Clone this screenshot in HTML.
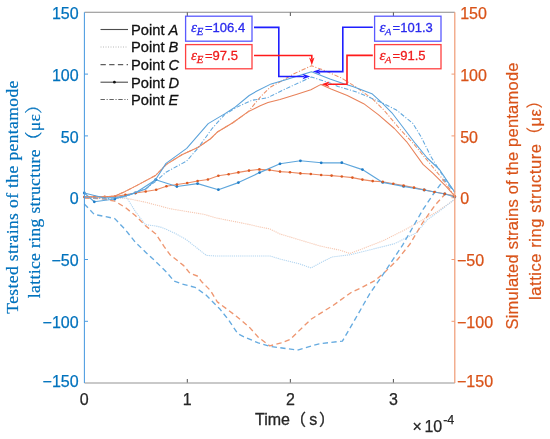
<!DOCTYPE html>
<html><head><meta charset="utf-8"><style>
html,body{margin:0;padding:0;background:#fff;}
body{width:550px;height:439px;overflow:hidden;position:relative;}
svg{position:absolute;left:0;top:0;}
.tl{font-family:"Liberation Sans",sans-serif;font-size:16px;stroke:currentColor;stroke-width:0.25px;}
.lg{font-family:"Liberation Sans",sans-serif;font-size:14.7px;fill:#111;stroke:#111;stroke-width:0.3px;}
.eps{font-family:"Liberation Serif",serif;font-style:italic;font-size:15px;}
.sub{font-family:"Liberation Serif",serif;font-style:italic;font-size:10.8px;}
.subs{font-family:"Liberation Sans",sans-serif;font-style:italic;font-size:9.6px;}
.num{font-family:"Liberation Sans",sans-serif;font-size:13px;}
.yl{font-family:"Liberation Serif","Noto Serif CJK SC",serif;font-size:17.5px;fill:#0072BD;stroke:#0072BD;stroke-width:0.2px;}
.yr{font-family:"Liberation Sans","Noto Sans CJK SC",sans-serif;font-size:16.5px;fill:#D95319;stroke:#D95319;stroke-width:0.2px;}
.xl{font-family:"Liberation Sans","Noto Sans CJK SC",sans-serif;font-size:16px;fill:#262626;stroke:#262626;stroke-width:0.3px;}
</style></head><body>
<svg width="550" height="439" viewBox="0 0 550 439">
<g>
<line x1="84.5" y1="12.3" x2="454.8" y2="12.3" stroke="#8a8a8a" stroke-width="1.1"/>
<line x1="84.5" y1="383" x2="454.8" y2="383" stroke="#939393" stroke-width="1.2"/>
<line x1="187.3" y1="382.5" x2="187.3" y2="379" stroke="#262626" stroke-width="0.8"/>
<line x1="187.3" y1="12.5" x2="187.3" y2="16" stroke="#262626" stroke-width="0.8"/>
<line x1="290.35" y1="382.5" x2="290.35" y2="379" stroke="#262626" stroke-width="0.8"/>
<line x1="290.35" y1="12.5" x2="290.35" y2="16" stroke="#262626" stroke-width="0.8"/>
<line x1="393.4" y1="382.5" x2="393.4" y2="379" stroke="#262626" stroke-width="0.8"/>
<line x1="393.4" y1="12.5" x2="393.4" y2="16" stroke="#262626" stroke-width="0.8"/>
<line x1="84.5" y1="74.1" x2="88" y2="74.1" stroke="#4a9be0" stroke-width="1"/>
<line x1="454.8" y1="74.1" x2="451.5" y2="74.1" stroke="#ef9a74" stroke-width="1"/>
<line x1="84.5" y1="135.9" x2="88" y2="135.9" stroke="#4a9be0" stroke-width="1"/>
<line x1="454.8" y1="135.9" x2="451.5" y2="135.9" stroke="#ef9a74" stroke-width="1"/>
<line x1="84.5" y1="197.7" x2="88" y2="197.7" stroke="#4a9be0" stroke-width="1"/>
<line x1="454.8" y1="197.7" x2="451.5" y2="197.7" stroke="#ef9a74" stroke-width="1"/>
<line x1="84.5" y1="259.5" x2="88" y2="259.5" stroke="#4a9be0" stroke-width="1"/>
<line x1="454.8" y1="259.5" x2="451.5" y2="259.5" stroke="#ef9a74" stroke-width="1"/>
<line x1="84.5" y1="321.3" x2="88" y2="321.3" stroke="#4a9be0" stroke-width="1"/>
<line x1="454.8" y1="321.3" x2="451.5" y2="321.3" stroke="#ef9a74" stroke-width="1"/>
</g>
<g>
<polyline points="84.3,197 125,198 145.5,202.2 170,208.7 204.2,214.4 215.6,217.8 249.7,224.6 260,227 270,229 280,234 300,240 320,246 340,250.2 349.8,253.5 361.8,249.1 383.7,240.4 405.5,229.5 423,219.7 438.3,210.9 454.8,199.5" fill="none" stroke="#f6c8b2" stroke-width="1.1" stroke-dasharray="1.2 0.9" stroke-linejoin="round" opacity="1"/>
<polyline points="84.3,197 104.9,197.5 127,198 135.3,211.4 145.5,224.7 155.8,226 162,227.5 174,232.8 186,239.4 206.4,255.4 215.6,256 270,256 280,259 300,264 311,268 320,263 332,257 350.9,254.6 372.8,249.1 394.6,243.7 407.7,237.1 416.4,232.8 427.3,219.7 438.3,212 454.8,199" fill="none" stroke="#b2d5f0" stroke-width="1.1" stroke-dasharray="1.2 0.9" stroke-linejoin="round" opacity="1"/>
<polyline points="84.3,198 104.5,199 114.8,201.2 125,207.3 135.3,215.5 145.5,225.7 155.8,234 164,246.3 170,254.7 183.7,265.6 190,273.4 197.3,276 201.4,281.4 210.5,290.5 217.3,301.9 235.6,315.6 249.2,327 258.3,337.2 269.7,345.9 281.1,342.9 290,339.5 311,319.2 332.8,305.6 352,291.9 360,288.5 375,280.5 385,272 397.6,259.5 410,244 422.7,222.6 435.2,205 445.2,194 454.8,196.3" fill="none" stroke="#ee9670" stroke-width="1.35" stroke-dasharray="5.3 3.4" stroke-linejoin="round" opacity="1"/>
<polyline points="84.3,204 94.3,214.5 104.9,216.5 114.8,218.6 125.5,229.9 135.3,242.2 145.9,252.4 155.8,261.6 166.4,272 174,281 181.4,283.8 195,287.3 206,295 219.6,308.7 228.7,320.1 237.8,333.8 244.7,337.2 258.3,342.9 269.7,346.3 297.3,350.1 319.2,343.8 342.4,341.1 352,324.7 362.9,305.6 370,293.3 380,279 390,264 402.6,245.1 412.6,227.6 422.7,210 432.7,195 444,179.5 454.8,192.3" fill="none" stroke="#66abe0" stroke-width="1.35" stroke-dasharray="5.3 3.4" stroke-linejoin="round" opacity="1"/>
<polyline points="84.3,197 94.5,196.8 104.7,196.8 114.9,196.5 125.4,194.9 135.5,193 145.7,191.5 156.2,189.7 166.4,186.3 176.9,184.5 187.2,183 197.6,181 207.9,179.5 218.4,175.8 228.6,174.3 238.4,172.4 249,170.6 259.4,169.4 269.6,170 280,171.6 290,172.2 300.4,173.4 310.8,174 321.2,175 331.6,175.6 341.8,176.5 352.4,177.6 362.4,179.6 372.7,181.1 382.7,181.8 393.3,183.8 403.6,185.6 414,187.6 424.2,189.9 434.4,192 444.7,193.7 454.8,196.2" fill="none" stroke="#ec8a62" stroke-width="1.15" stroke-linejoin="round" opacity="1"/>
<polyline points="84.3,193 94.3,201.8 114.8,199 135.3,193 155.7,179.7 176.9,186.5 197.6,183.6 218.4,189.7 238.4,182.6 259.6,172.6 280,163.8 300.4,160.8 321.2,162.8 341.8,162.7 362.4,169.6 382.7,182.4 403.6,186.4 424.2,190 444.8,194 454.8,197" fill="none" stroke="#5ea6dc" stroke-width="1.15" stroke-linejoin="round" opacity="1"/>
<circle cx="84.3" cy="193.0" r="1.4" fill="#1f7cc6"/><circle cx="94.3" cy="201.8" r="1.4" fill="#1f7cc6"/><circle cx="114.8" cy="199.0" r="1.4" fill="#1f7cc6"/><circle cx="135.3" cy="193.0" r="1.4" fill="#1f7cc6"/><circle cx="155.7" cy="179.7" r="1.4" fill="#1f7cc6"/><circle cx="176.9" cy="186.5" r="1.4" fill="#1f7cc6"/><circle cx="197.6" cy="183.6" r="1.4" fill="#1f7cc6"/><circle cx="218.4" cy="189.7" r="1.4" fill="#1f7cc6"/><circle cx="238.4" cy="182.6" r="1.4" fill="#1f7cc6"/><circle cx="259.6" cy="172.6" r="1.4" fill="#1f7cc6"/><circle cx="280.0" cy="163.8" r="1.4" fill="#1f7cc6"/><circle cx="300.4" cy="160.8" r="1.4" fill="#1f7cc6"/><circle cx="321.2" cy="162.8" r="1.4" fill="#1f7cc6"/><circle cx="341.8" cy="162.7" r="1.4" fill="#1f7cc6"/><circle cx="362.4" cy="169.6" r="1.4" fill="#1f7cc6"/><circle cx="382.7" cy="182.4" r="1.4" fill="#1f7cc6"/><circle cx="403.6" cy="186.4" r="1.4" fill="#1f7cc6"/><circle cx="424.2" cy="190.0" r="1.4" fill="#1f7cc6"/><circle cx="444.8" cy="194.0" r="1.4" fill="#1f7cc6"/><circle cx="454.8" cy="197.0" r="1.4" fill="#1f7cc6"/>
<circle cx="84.3" cy="197.0" r="1.3" fill="#dc5a22"/><circle cx="94.5" cy="196.8" r="1.3" fill="#dc5a22"/><circle cx="104.7" cy="196.8" r="1.3" fill="#dc5a22"/><circle cx="114.9" cy="196.5" r="1.3" fill="#dc5a22"/><circle cx="125.4" cy="194.9" r="1.3" fill="#dc5a22"/><circle cx="135.5" cy="193.0" r="1.3" fill="#dc5a22"/><circle cx="145.7" cy="191.5" r="1.3" fill="#dc5a22"/><circle cx="156.2" cy="189.7" r="1.3" fill="#dc5a22"/><circle cx="166.4" cy="186.3" r="1.3" fill="#dc5a22"/><circle cx="176.9" cy="184.5" r="1.3" fill="#dc5a22"/><circle cx="187.2" cy="183.0" r="1.3" fill="#dc5a22"/><circle cx="197.6" cy="181.0" r="1.3" fill="#dc5a22"/><circle cx="207.9" cy="179.5" r="1.3" fill="#dc5a22"/><circle cx="218.4" cy="175.8" r="1.3" fill="#dc5a22"/><circle cx="228.6" cy="174.3" r="1.3" fill="#dc5a22"/><circle cx="238.4" cy="172.4" r="1.3" fill="#dc5a22"/><circle cx="249.0" cy="170.6" r="1.3" fill="#dc5a22"/><circle cx="259.4" cy="169.4" r="1.3" fill="#dc5a22"/><circle cx="269.6" cy="170.0" r="1.3" fill="#dc5a22"/><circle cx="280.0" cy="171.6" r="1.3" fill="#dc5a22"/><circle cx="290.0" cy="172.2" r="1.3" fill="#dc5a22"/><circle cx="300.4" cy="173.4" r="1.3" fill="#dc5a22"/><circle cx="310.8" cy="174.0" r="1.3" fill="#dc5a22"/><circle cx="321.2" cy="175.0" r="1.3" fill="#dc5a22"/><circle cx="331.6" cy="175.6" r="1.3" fill="#dc5a22"/><circle cx="341.8" cy="176.5" r="1.3" fill="#dc5a22"/><circle cx="352.4" cy="177.6" r="1.3" fill="#dc5a22"/><circle cx="362.4" cy="179.6" r="1.3" fill="#dc5a22"/><circle cx="372.7" cy="181.1" r="1.3" fill="#dc5a22"/><circle cx="382.7" cy="181.8" r="1.3" fill="#dc5a22"/><circle cx="393.3" cy="183.8" r="1.3" fill="#dc5a22"/><circle cx="403.6" cy="185.6" r="1.3" fill="#dc5a22"/><circle cx="414.0" cy="187.6" r="1.3" fill="#dc5a22"/><circle cx="424.2" cy="189.9" r="1.3" fill="#dc5a22"/><circle cx="434.4" cy="192.0" r="1.3" fill="#dc5a22"/><circle cx="444.7" cy="193.7" r="1.3" fill="#dc5a22"/><circle cx="454.8" cy="196.2" r="1.3" fill="#dc5a22"/>
<polyline points="84.3,197 94.5,197 104.8,196.8 115,196 125.3,191.4 135.6,186.1 145.9,180.6 155.5,175.5 166.4,164.4 181.9,154.7 197.8,147.5 210.6,138.7 217.8,131.7 232.8,122.8 247.9,111.9 260.2,105.7 268,102.6 280,99.4 297,94.2 310.9,89.8 321,84.4 331,89.1 347.3,95.5 363.7,103.7 378.3,114.6 394.4,128.5 406.7,141.8 423,164.4 433.3,173.6 445.6,185.9 454.8,196.2" fill="none" stroke="#e8825a" stroke-width="1.05" stroke-linejoin="round" opacity="1"/>
<polyline points="84.3,197 94.5,197 104.8,196.8 115,196 125.3,191.4 135.6,186.1 145.9,180.6 155.5,175.5 166.4,164.4 181.9,154.7 197.8,147.5 210.6,138.7 217.8,131.7 232.8,122.8 248,112 259.8,97.6 270,87.3 282.6,80.5 294,73.7 311.5,65.8 324.6,70.5 341.9,78.2 356.4,87.3 372.8,99.2 383.8,110 400,129.2 412.8,142.8 441.5,177.7 454.8,196.2" fill="none" stroke="#ec9068" stroke-width="1.05" stroke-dasharray="4.4 1.7 1.1 1.7" stroke-linejoin="round" opacity="1"/>
<polyline points="84.3,193 94.3,195.5 104.9,198 114.8,197.5 125.5,196 135.3,192.5 146,189 155.7,179.5 166,163.4 186.7,148.3 208.2,123.6 224.6,113.9 234.2,107.8 249.2,95.5 256.4,91.3 271.2,83.9 284.9,79.9 311.5,71.8 330,79 343.7,83.7 352.8,86.4 371.9,93.7 382.3,103.2 391.9,112.8 400.5,124 415.5,143.7 427.2,158 439.5,169.5 454.8,192.3" fill="none" stroke="#5aa2da" stroke-width="1.05" stroke-linejoin="round" opacity="1"/>
<polyline points="84.3,197 104.9,199 125.5,196.5 146,188.5 155.5,181.5 166,172.2 186.7,161 197.8,148.3 212.3,128.3 224.6,114.6 238.3,106.4 252,100.3 267.8,97.6 279.2,91.9 292.8,85.6 311.4,77 330,83 338,86.4 356.4,91.9 369.2,97.3 382,102.8 396.4,110 412.8,123.3 421,136.7 431.3,157.2 441.5,173.6 454.8,192.3" fill="none" stroke="#62a8de" stroke-width="1.05" stroke-dasharray="4.4 1.7 1.1 1.7" stroke-linejoin="round" opacity="1"/>
</g>
<line x1="84.4" y1="12.3" x2="84.4" y2="383" stroke="#4a9be0" stroke-width="1.05"/>
<line x1="454.8" y1="12.3" x2="454.8" y2="383" stroke="#ef9a74" stroke-width="1.2"/>
<text x="78.6" y="18.9" text-anchor="end" class="tl" fill="#0072BD" color="#0072BD">150</text>
<text x="460.2" y="18.9" class="tl" fill="#D95319" color="#D95319">150</text>
<text x="78.6" y="80.7" text-anchor="end" class="tl" fill="#0072BD" color="#0072BD">100</text>
<text x="460.2" y="80.7" class="tl" fill="#D95319" color="#D95319">100</text>
<text x="78.6" y="142.5" text-anchor="end" class="tl" fill="#0072BD" color="#0072BD">50</text>
<text x="460.2" y="142.5" class="tl" fill="#D95319" color="#D95319">50</text>
<text x="78.6" y="204.3" text-anchor="end" class="tl" fill="#0072BD" color="#0072BD">0</text>
<text x="460.2" y="204.3" class="tl" fill="#D95319" color="#D95319">0</text>
<text x="78.6" y="266.1" text-anchor="end" class="tl" fill="#0072BD" color="#0072BD">−50</text>
<text x="457.0" y="266.1" class="tl" fill="#D95319" color="#D95319">−50</text>
<text x="78.6" y="327.9" text-anchor="end" class="tl" fill="#0072BD" color="#0072BD">−100</text>
<text x="457.0" y="327.9" class="tl" fill="#D95319" color="#D95319">−100</text>
<text x="78.6" y="386.9" text-anchor="end" class="tl" fill="#0072BD" color="#0072BD">−150</text>
<text x="457.0" y="386.9" class="tl" fill="#D95319" color="#D95319">−150</text>
<text x="84.25" y="404.8" text-anchor="middle" class="tl" fill="#262626" color="#262626">0</text>
<text x="187.3" y="404.8" text-anchor="middle" class="tl" fill="#262626" color="#262626">1</text>
<text x="290.35" y="404.8" text-anchor="middle" class="tl" fill="#262626" color="#262626">2</text>
<text x="393.4" y="404.8" text-anchor="middle" class="tl" fill="#262626" color="#262626">3</text>
<text x="255" y="424.6" class="xl">Time（<tspan dx="3.3">s</tspan><tspan dx="1.7">）</tspan></text>
<text x="412.5" y="431.5" style="font-family:'Liberation Sans',sans-serif;font-size:16px;fill:#262626;stroke:#262626;stroke-width:0.25px">×<tspan x="424.4">10</tspan><tspan x="443.2" dy="-8" style="font-size:12.5px">-4</tspan></text>
<line x1="100.5" y1="29.5" x2="128" y2="29.5" stroke="#4d4d4d" stroke-width="1.1"/>
<text x="131" y="34.8" class="lg">Point <tspan font-style="italic">A</tspan></text>
<line x1="100.5" y1="47.0" x2="128" y2="47.0" stroke="#b8b8b8" stroke-width="1" stroke-dasharray="1 1.5"/>
<text x="131" y="52.3" class="lg">Point <tspan font-style="italic">B</tspan></text>
<line x1="100.5" y1="64.7" x2="128" y2="64.7" stroke="#5e5e5e" stroke-width="1.2" stroke-dasharray="5.3 3.4"/>
<text x="131" y="70.0" class="lg">Point <tspan font-style="italic">C</tspan></text>
<line x1="100.5" y1="82.2" x2="128" y2="82.2" stroke="#4d4d4d" stroke-width="1.1"/>
<text x="131" y="87.5" class="lg">Point <tspan font-style="italic">D</tspan></text>
<line x1="100.5" y1="99.5" x2="128" y2="99.5" stroke="#646464" stroke-width="1.2" stroke-dasharray="4.4 1.7 1.1 1.7"/>
<text x="131" y="104.8" class="lg">Point <tspan font-style="italic">E</tspan></text>
<circle cx="114.4" cy="82.2" r="1.35" fill="#111"/>

<rect x="185.6" y="16.2" width="66.4" height="25" fill="#fff" stroke="#5a5aff" stroke-width="1.3"/>
<rect x="185.6" y="44.6" width="66.4" height="24.2" fill="#fff" stroke="#ff4040" stroke-width="1.3"/>
<rect x="374.6" y="16.2" width="66.4" height="25" fill="#fff" stroke="#5a5aff" stroke-width="1.3"/>
<rect x="374.6" y="44.6" width="66.4" height="24.2" fill="#fff" stroke="#ff4040" stroke-width="1.3"/>
<g fill="none" stroke-width="1.6">
<polyline points="254,27.4 278.8,27.4 278.8,76.5 304,76.5" stroke="#1f1fff"/>
<polyline points="254,55.5 311.8,55.5 311.8,59" stroke="#ff1a1a"/>
<polyline points="372.8,27.2 342.8,27.2 342.8,71.6 319,71.6" stroke="#1f1fff"/>
<polyline points="372.8,55.4 347,55.4 347,84.3 328,84.3" stroke="#ff1a1a"/>
</g>
<polygon points="310.3,76.5 302.5,73.8 304.5,76.5 302.5,79.2" fill="#1f1fff"/>
<polygon points="311.8,65.2 309.1,57.5 311.8,59.5 314.5,57.5" fill="#ff1a1a"/>
<polygon points="312.8,71.6 320.6,68.9 318.6,71.6 320.6,74.3" fill="#1f1fff"/>
<polygon points="321.6,84.3 329.4,81.6 327.4,84.3 329.4,87" fill="#ff1a1a"/>
<text y="31.9" fill="#2a2aee" stroke="#2a2aee" stroke-width="0.3"><tspan x="191" class="eps">ε</tspan><tspan x="196.8" class="sub" dy="3">E</tspan><tspan x="205" class="num" dy="-3">=106.4</tspan></text>
<text y="60.2" fill="#f01c1c" stroke="#f01c1c" stroke-width="0.3"><tspan x="191" class="eps">ε</tspan><tspan x="196.8" class="sub" dy="3">E</tspan><tspan x="205" class="num" dy="-3">=97.5</tspan></text>
<text y="31.9" fill="#2a2aee" stroke="#2a2aee" stroke-width="0.3"><tspan x="379.4" class="eps">ε</tspan><tspan x="384.9" class="subs" dy="2.9">A</tspan><tspan x="392.6" class="num" dy="-2.9">=101.3</tspan></text>
<text y="60.2" fill="#f01c1c" stroke="#f01c1c" stroke-width="0.3"><tspan x="379.4" class="eps">ε</tspan><tspan x="384.9" class="subs" dy="2.9">A</tspan><tspan x="392.6" class="num" dy="-2.9">=91.5</tspan></text>

<text transform="translate(18.2,197.2) rotate(-90)" text-anchor="middle" class="yl" textLength="233" lengthAdjust="spacing">Tested strains of the pentamode</text>
<text transform="translate(40.4,197.2) rotate(-90)" text-anchor="middle" class="yl" textLength="202" lengthAdjust="spacing">lattice ring structure（με）</text>
<text transform="translate(518.2,196) rotate(-90)" text-anchor="middle" class="yr" textLength="267" lengthAdjust="spacing">Simulated strains of the pentamode</text>
<text transform="translate(541,196) rotate(-90)" text-anchor="middle" class="yr" textLength="208" lengthAdjust="spacing">lattice ring structure（με）</text>
</svg>
</body></html>
